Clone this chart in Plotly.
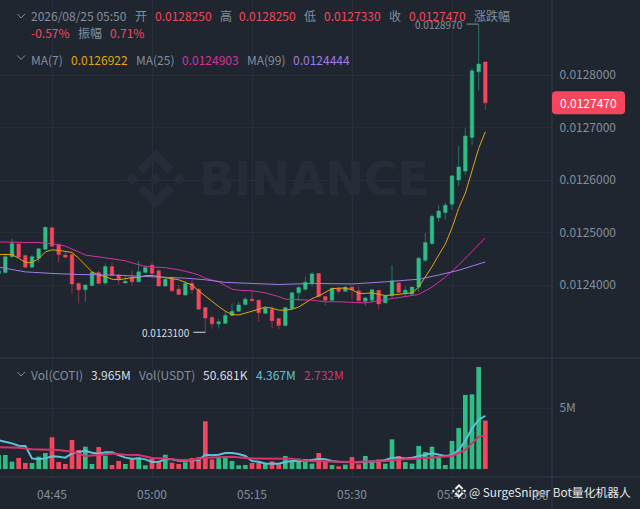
import pandas as pd
import plotly.graph_objects as go

W, H = 640, 509

# 1分钟K线 04:37 - 05:50
times = pd.date_range("2026-08-25 04:37", "2026-08-25 05:50", freq="1min")

opens = [
    0.012422, 0.012424, 0.012454, 0.012478, 0.012456, 0.012434, 0.012451, 0.012468, 0.012509, 0.012476, 0.012457, 0.012458,
    0.012403, 0.012391, 0.012399, 0.012424, 0.012404, 0.012435, 0.012419, 0.012404, 0.012415, 0.012406, 0.012424, 0.012438,
    0.012427, 0.012398, 0.012413, 0.012392, 0.012381, 0.012403, 0.012392, 0.012357, 0.012338, 0.012326, 0.012327, 0.012342,
    0.012350, 0.012363, 0.012373, 0.012371, 0.012346, 0.012354, 0.012336, 0.012323, 0.012355, 0.012385, 0.012392, 0.012403,
    0.012422, 0.012378, 0.012371, 0.012394, 0.012388, 0.012396, 0.012389, 0.012369, 0.012371, 0.012390, 0.012366, 0.012380,
    0.012404, 0.012385, 0.012383, 0.012396, 0.012447, 0.012479, 0.012528, 0.012538, 0.012554, 0.012600, 0.012617, 0.012681,
    0.012806, 0.012825,
]
closes = [
    0.012427, 0.012454, 0.012479, 0.012453, 0.012434, 0.012454, 0.012469, 0.012510, 0.012474, 0.012458, 0.012453, 0.012402,
    0.012391, 0.012400, 0.012424, 0.012403, 0.012435, 0.012418, 0.012411, 0.012407, 0.012406, 0.012425, 0.012433, 0.012422,
    0.012398, 0.012411, 0.012389, 0.012382, 0.012403, 0.012391, 0.012354, 0.012337, 0.012326, 0.012330, 0.012342, 0.012350,
    0.012362, 0.012373, 0.012370, 0.012347, 0.012356, 0.012332, 0.012323, 0.012357, 0.012385, 0.012395, 0.012405, 0.012421,
    0.012378, 0.012371, 0.012394, 0.012388, 0.012396, 0.012391, 0.012370, 0.012375, 0.012391, 0.012364, 0.012379, 0.012408,
    0.012386, 0.012390, 0.012396, 0.012451, 0.012481, 0.012531, 0.012541, 0.012552, 0.012608, 0.012625, 0.012684, 0.012808,
    0.012821, 0.012747,
]
highs = [
    0.012429, 0.012460, 0.012488, 0.012479, 0.012458, 0.012457, 0.012470, 0.012510, 0.012509, 0.012479, 0.012464, 0.012458,
    0.012403, 0.012400, 0.012425, 0.012427, 0.012441, 0.012443, 0.012422, 0.012418, 0.012427, 0.012446, 0.012438, 0.012443,
    0.012430, 0.012415, 0.012416, 0.012400, 0.012408, 0.012410, 0.012394, 0.012357, 0.012342, 0.012336, 0.012349, 0.012365,
    0.012368, 0.012377, 0.012387, 0.012371, 0.012359, 0.012359, 0.012337, 0.012357, 0.012387, 0.012398, 0.012416, 0.012425,
    0.012422, 0.012379, 0.012394, 0.012394, 0.012397, 0.012398, 0.012398, 0.012378, 0.012392, 0.012390, 0.012380, 0.012438,
    0.012405, 0.012397, 0.012396, 0.012453, 0.012499, 0.012534, 0.012552, 0.012557, 0.012608, 0.012665, 0.012699, 0.012813,
    0.012897, 0.012825,
]
lows = [
    0.012421, 0.012422, 0.012452, 0.012453, 0.012432, 0.012434, 0.012443, 0.012467, 0.012472, 0.012443, 0.012453, 0.012384,
    0.012365, 0.012368, 0.012397, 0.012402, 0.012400, 0.012417, 0.012401, 0.012403, 0.012399, 0.012406, 0.012422, 0.012413,
    0.012398, 0.012397, 0.012387, 0.012382, 0.012380, 0.012383, 0.012354, 0.012310, 0.012317, 0.012317, 0.012325, 0.012342,
    0.012349, 0.012361, 0.012368, 0.012331, 0.012345, 0.012318, 0.012316, 0.012321, 0.012352, 0.012370, 0.012389, 0.012397,
    0.012378, 0.012361, 0.012370, 0.012383, 0.012387, 0.012373, 0.012370, 0.012360, 0.012366, 0.012354, 0.012366, 0.012375,
    0.012384, 0.012378, 0.012379, 0.012387, 0.012444, 0.012476, 0.012520, 0.012524, 0.012543, 0.012589, 0.012610, 0.012667,
    0.012771, 0.012733,
]
# 成交量，单位 M
volumes = [
    1.15, 1.15, 0.60, 0.90, 0.49, 0.49, 1.01, 1.31, 2.60, 0.57, 0.41, 2.38, 1.56, 1.83, 0.41, 1.80, 1.09, 0.33, 0.66, 0.41,
    0.85, 0.96, 0.30, 0.96, 0.60, 1.17, 0.52, 0.41, 0.55, 0.90, 0.98, 3.91, 0.79, 0.93, 0.90, 0.66, 0.30, 0.33, 0.49, 0.52,
    0.46, 0.63, 0.38, 1.07, 0.60, 0.85, 0.82, 0.44, 1.31, 0.60, 0.33, 0.22, 0.36, 0.98, 0.38, 1.07, 0.57, 0.79, 0.44, 2.43,
    1.07, 0.57, 0.44, 1.89, 1.39, 1.83, 0.93, 0.33, 2.30, 3.36, 6.07, 6.12, 8.36, 3.965,
]
ma7 = [
    0.012458, 0.012458, 0.012458, 0.012451, 0.012443, 0.012443, 0.012450, 0.012463, 0.012467, 0.012466, 0.012464, 0.012462,
    0.012451, 0.012438, 0.012425, 0.012419, 0.012416, 0.012411, 0.012410, 0.012412, 0.012414, 0.012414, 0.012418, 0.012418,
    0.012416, 0.012415, 0.012413, 0.012410, 0.012405, 0.012400, 0.012389, 0.012379, 0.012368, 0.012359, 0.012350, 0.012344,
    0.012343, 0.012346, 0.012350, 0.012354, 0.012358, 0.012356, 0.012352, 0.012352, 0.012354, 0.012358, 0.012366, 0.012374,
    0.012379, 0.012386, 0.012393, 0.012394, 0.012394, 0.012391, 0.012384, 0.012384, 0.012385, 0.012382, 0.012380, 0.012381,
    0.012382, 0.012383, 0.012385, 0.012396, 0.012415, 0.012435, 0.012457, 0.012478, 0.012509, 0.012546, 0.012575, 0.012616,
    0.012660, 0.012692,
]
ma25_times = [
    "04:37", "04:39", "04:41", "04:43", "04:45", "04:46", "04:47", "04:48", "04:49", "04:50", "04:52", "04:54", "04:56",
    "04:58", "04:59", "05:02", "05:04", "05:06", "05:07", "05:08", "05:09", "05:10", "05:11", "05:12", "05:13", "05:15",
    "05:17", "05:19", "05:20", "05:22", "05:24", "05:26", "05:28", "05:32", "05:34", "05:36", "05:38", "05:40", "05:42",
    "05:44", "05:46", "05:48", "05:50",
]
ma25 = [
    0.012482, 0.012481, 0.012481, 0.012481, 0.012478, 0.012477, 0.012474, 0.012469, 0.012463, 0.012457, 0.012454, 0.012450,
    0.012446, 0.012438, 0.012435, 0.012433, 0.012429, 0.012423, 0.012419, 0.012413, 0.012410, 0.012406, 0.012399, 0.012392,
    0.012390, 0.012389, 0.012385, 0.012378, 0.012373, 0.012372, 0.012371, 0.012368, 0.012368, 0.012366, 0.012370, 0.012375,
    0.012378, 0.012382, 0.012396, 0.012415, 0.012438, 0.012463, 0.012490,
]
ma99_times = [
    "04:37", "04:39", "04:41", "04:45", "04:49", "04:54", "04:58", "05:02", "05:05", "05:08", "05:11", "05:15", "05:19",
    "05:24", "05:30", "05:35", "05:40", "05:43", "05:46", "05:50",
]
ma99 = [
    0.012434, 0.012429, 0.012425, 0.012422, 0.012420, 0.012419, 0.012417, 0.012415, 0.012413, 0.012410, 0.012405, 0.012403,
    0.012401, 0.012403, 0.012402, 0.012406, 0.012411, 0.012419, 0.012428, 0.012444,
]
vol_ma_fast = [
    2.35, 2.24, 2.10, 1.91, 1.89, 0.87, 0.79, 0.87, 1.04, 1.01, 0.93, 1.28, 1.42, 1.50, 1.34, 1.26, 1.37, 1.37, 1.15, 0.93,
    0.85, 0.87, 0.79, 0.57, 0.60, 0.79, 0.79, 0.68, 0.68, 0.68, 0.74, 1.17, 1.12, 1.17, 1.31, 1.31, 1.23, 1.07, 0.66, 0.60,
    0.46, 0.44, 0.44, 0.57, 0.66, 0.68, 0.66, 0.74, 0.82, 0.79, 0.66, 0.60, 0.57, 0.57, 0.55, 0.60, 0.60, 0.63, 0.74, 0.93,
    0.93, 0.87, 0.93, 1.07, 1.17, 1.28, 1.15, 1.07, 1.15, 1.56, 2.30, 3.33, 4.02, 4.367,
]
vol_ma_slow_times = [
    "04:37", "04:40", "04:42", "04:44", "04:46", "04:48", "04:50", "04:52", "04:54", "04:56", "04:58", "05:00", "05:02",
    "05:04", "05:06", "05:08", "05:12", "05:15", "05:18", "05:21", "05:23", "05:26", "05:30", "05:35", "05:37", "05:40",
    "05:43", "05:45", "05:47", "05:49", "05:50",
]
vol_ma_slow = [
    1.78, 1.75, 1.61, 1.61, 1.56, 1.42, 1.07, 1.15, 1.26, 1.17, 1.15, 0.90, 0.87, 0.74, 0.74, 0.93, 1.01, 0.87, 0.87, 0.85,
    0.66, 0.63, 0.57, 0.66, 0.77, 0.87, 0.98, 1.07, 1.56, 2.65, 2.732,
]

x_ticks = ["04:45", "05:00", "05:15", "05:30", "05:45"]
price_ticks = [0.0124, 0.0125, 0.0126, 0.0127, 0.0128]

BG = "#1f2630"
GRID = "#272e39"
EDGE = "#343a46"
GREY = "#848e9c"
UP = "#2ebd85"
DOWN = "#f6465d"
UP_WICK = "#1c7a63"
DOWN_WICK = "#8f3348"
YELLOW = "#e0a80c"
PINK = "#d233a0"
PURPLE = "#a47be6"
FONT = "Noto Sans CJK SC"


def stamp(hhmm):
    return f"2026-08-25 {hhmm}"


def px(x):
    return x / W


def py(y):
    return 1 - y / H


def poly(points, cx, cy, scale=1.0):
    parts = [f"{px(cx + a * scale):.5f},{py(cy + b * scale):.5f}" for a, b in points]
    return "M" + " L".join(parts) + " Z"


def logo(cx, cy, scale, color, layer):
    pieces = [
        [(0, -6), (6, 0), (0, 6), (-6, 0)],
        [(-23.5, -6), (-17.5, 0), (-23.5, 6), (-29.5, 0)],
        [(23.5, -6), (29.5, 0), (23.5, 6), (17.5, 0)],
        [(0, -29.5), (18, -11.5), (12, -5.5), (0, -17.5), (-12, -5.5), (-18, -11.5)],
        [(0, 29.5), (18, 11.5), (12, 5.5), (0, 17.5), (-12, 5.5), (-18, 11.5)],
    ]
    return [
        dict(type="path", xref="paper", yref="paper", path=poly(p, cx, cy, scale),
             fillcolor=color, line=dict(width=0), layer=layer)
        for p in pieces
    ]


def chevron(y):
    path = f"M{px(17.5):.5f},{py(y - 2):.5f} L{px(21):.5f},{py(y + 2):.5f} L{px(25):.5f},{py(y - 2):.5f}"
    return dict(type="path", xref="paper", yref="paper", path=path, line=dict(color=GREY, width=1))


def text(x, y, s, color=GREY, size=12, family=FONT, weight="normal"):
    # 注释文字自带约2px内边距
    return dict(xref="paper", yref="paper", x=px(x - 2), y=py(y), text=s, showarrow=False,
                xanchor="left", yanchor="middle", font=dict(family=family, size=size, color=color, weight=weight))


fig = go.Figure()

# 影线和实体分开画，影线颜色更暗
fig.add_trace(go.Candlestick(
    x=times, open=opens, high=highs, low=lows, close=closes,
    increasing=dict(line=dict(color=UP_WICK, width=1), fillcolor="rgba(0,0,0,0)"),
    decreasing=dict(line=dict(color=DOWN_WICK, width=1), fillcolor="rgba(0,0,0,0)"),
    showlegend=False,
))
fig.add_trace(go.Candlestick(
    x=times, open=opens, high=highs, low=lows, close=closes,
    increasing=dict(line=dict(color=UP, width=0), fillcolor=UP),
    decreasing=dict(line=dict(color=DOWN, width=0), fillcolor=DOWN),
    showlegend=False,
))
fig.add_trace(go.Scatter(x=times, y=ma7, mode="lines", line=dict(color=YELLOW, width=1), showlegend=False))
fig.add_trace(go.Scatter(x=[stamp(t) for t in ma25_times], y=ma25, mode="lines",
                         line=dict(color=PINK, width=1), showlegend=False))
fig.add_trace(go.Scatter(x=[stamp(t) for t in ma99_times], y=ma99, mode="lines",
                         line=dict(color=PURPLE, width=1), showlegend=False))

bar_colors = [UP if c >= o else DOWN for o, c in zip(opens, closes)]
fig.add_trace(go.Bar(x=times, y=volumes, width=42000, marker=dict(color=bar_colors, line=dict(width=0)),
                     xaxis="x2", yaxis="y2", showlegend=False))
fig.add_trace(go.Scatter(x=times, y=vol_ma_fast, mode="lines", line=dict(color="#5ac4da", width=2),
                         xaxis="x2", yaxis="y2", showlegend=False))
fig.add_trace(go.Scatter(x=[stamp(t) for t in vol_ma_slow_times], y=vol_ma_slow, mode="lines",
                         line=dict(color="#d9336c", width=2), xaxis="x2", yaxis="y2", showlegend=False))

x_range = ["2026-08-25 04:37:12", "2026-08-25 06:00:00"]
x_domain = [0, px(552)]

shapes = []
shapes += logo(155.7, 179, 1.0, "#272d38", "below")
shapes += logo(459, 491, 0.24, "#eceef0", "above")
shapes += [chevron(16), chevron(57.5), chevron(374)]
# 分隔线
shapes += [
    dict(type="line", xref="paper", yref="paper", x0=0, x1=1, y0=py(358), y1=py(358), line=dict(color=EDGE, width=1)),
    dict(type="line", xref="paper", yref="paper", x0=0, x1=1, y0=py(477), y1=py(477), line=dict(color=EDGE, width=1)),
    dict(type="line", xref="paper", yref="paper", x0=px(552), x1=px(552), y0=0, y1=1, line=dict(color=EDGE, width=1)),
]
# 最新价标签
shapes.append(dict(
    type="path", xref="paper", yref="y", xsizemode="pixel", ysizemode="pixel",
    xanchor=px(552), yanchor=closes[-1],
    path="M 4 -11.5 L 69 -11.5 Q 73 -11.5 73 -7.5 L 73 7.5 Q 73 11.5 69 11.5 L 4 11.5 Q 0 11.5 0 7.5 L 0 -7.5 Q 0 -11.5 4 -11.5 Z",
    fillcolor=DOWN, line=dict(width=0),
))
# 最高价、最低价引线
hi = highs.index(max(highs))
lo = lows.index(min(lows))
shapes.append(dict(type="line", xref="x", yref="y", xsizemode="pixel", xanchor=times[hi], x0=-12, x1=0,
                   y0=highs[hi], y1=highs[hi], line=dict(color=GREY, width=1)))
shapes.append(dict(type="line", xref="x", yref="y", xsizemode="pixel", xanchor=times[lo], x0=-12, x1=0,
                   y0=lows[lo], y1=lows[lo], line=dict(color="#d8dce2", width=1)))

annotations = [
    text(31, 16, "2026/08/25 05:50"),
    text(135, 16, "开"),
    text(155, 16, f"{opens[-1]:.7f}", DOWN),
    text(220, 16, "高"),
    text(239, 16, f"{highs[-1]:.7f}", DOWN),
    text(304, 16, "低"),
    text(324, 16, f"{lows[-1]:.7f}", DOWN),
    text(389, 16, "收"),
    text(408.5, 16, f"{closes[-1]:.7f}", DOWN),
    text(473.5, 16, "涨跌幅"),
    text(31, 32, "-0.57%", DOWN),
    text(78, 32, "振幅"),
    text(110, 32, "0.71%", DOWN),
    text(31, 59, "MA(7)"),
    text(71, 59, "0.0126922", YELLOW),
    text(136, 59, "MA(25)"),
    text(182, 59, "0.0124903", PINK),
    text(247, 59, "MA(99)"),
    text(293, 59, "0.0124444", PURPLE),
    text(31, 374, "Vol(COTI)"),
    text(91, 374, "3.965M", "#d8dce2"),
    text(139, 374, "Vol(USDT)"),
    text(203, 374, "50.681K", "#d8dce2"),
    text(255.5, 374, "4.367M", "#5ac4da"),
    text(303.5, 374, "2.732M", "#d9336c"),
    text(469, 491, "@ SurgeSniper Bot量化机器人", "#e6e8ea", 11.8),
    text(198.5, 179, "BINANCE", "#272d38", 46, "DejaVu Sans", "bold"),
    dict(xref="paper", yref="paper", x=px(551), y=py(494), text="06", showarrow=False, xanchor="right",
         yanchor="middle", font=dict(family=FONT, size=12, color=GREY)),
    dict(xref="paper", yref="y", x=px(588.5), y=closes[-1], text=f"{closes[-1]:.7f}", showarrow=False,
         xanchor="center", yanchor="middle", font=dict(family=FONT, size=12, color="#ffffff")),
    dict(xref="x", yref="y", x=times[hi], y=highs[hi], text=f"{highs[hi]:.7f}", showarrow=False, xanchor="right",
         xshift=-14, yanchor="middle", font=dict(family=FONT, size=10, color=GREY)),
    dict(xref="x", yref="y", x=times[lo], y=lows[lo], text=f"{lows[lo]:.7f}", showarrow=False, xanchor="right",
         xshift=-13, yanchor="middle", font=dict(family=FONT, size=10, color="#d8dce2")),
]

fig.update_layout(
    width=W, height=H,
    margin=dict(l=0, r=0, t=0, b=0),
    paper_bgcolor=BG, plot_bgcolor=BG,
    font=dict(family=FONT, size=12, color=GREY),
    showlegend=False, hovermode=False, boxgap=0.25,
    xaxis=dict(domain=x_domain, anchor="y", type="date", range=x_range, rangeslider=dict(visible=False),
               tickvals=[stamp(t) for t in x_ticks], showticklabels=False, ticks="",
               showgrid=True, gridcolor=GRID, gridwidth=1, zeroline=False),
    yaxis=dict(domain=[1 - 358 / H, 1], anchor="x", side="right", range=[0.01226095, 0.01294286],
               tickvals=price_ticks, ticktext=[f"{v:.7f}" for v in price_ticks], ticks="outside", ticklen=4,
               tickcolor="rgba(0,0,0,0)", tickfont=dict(family=FONT, size=12, color=GREY),
               showgrid=True, gridcolor=GRID, gridwidth=1, zeroline=False),
    xaxis2=dict(domain=x_domain, anchor="y2", type="date", range=x_range,
                tickvals=[stamp(t) for t in x_ticks], ticktext=x_ticks, ticks="outside", ticklen=7,
                tickcolor="rgba(0,0,0,0)", tickfont=dict(family=FONT, size=12, color=GREY),
                showgrid=True, gridcolor=GRID, gridwidth=1, zeroline=False),
    yaxis2=dict(domain=[1 - 477 / H, 1 - 358 / H], anchor="x2", side="right", range=[-0.656, 9.098],
                tickvals=[5], ticktext=["5M"], ticks="outside", ticklen=4,
                tickcolor="rgba(0,0,0,0)", tickfont=dict(family=FONT, size=12, color=GREY),
                showgrid=True, gridcolor=GRID, gridwidth=1, zeroline=False),
    shapes=shapes,
    annotations=annotations,
)

fig.write_html("out.html", config=dict(displayModeBar=False), post_script="document.body.style.margin='0';")
